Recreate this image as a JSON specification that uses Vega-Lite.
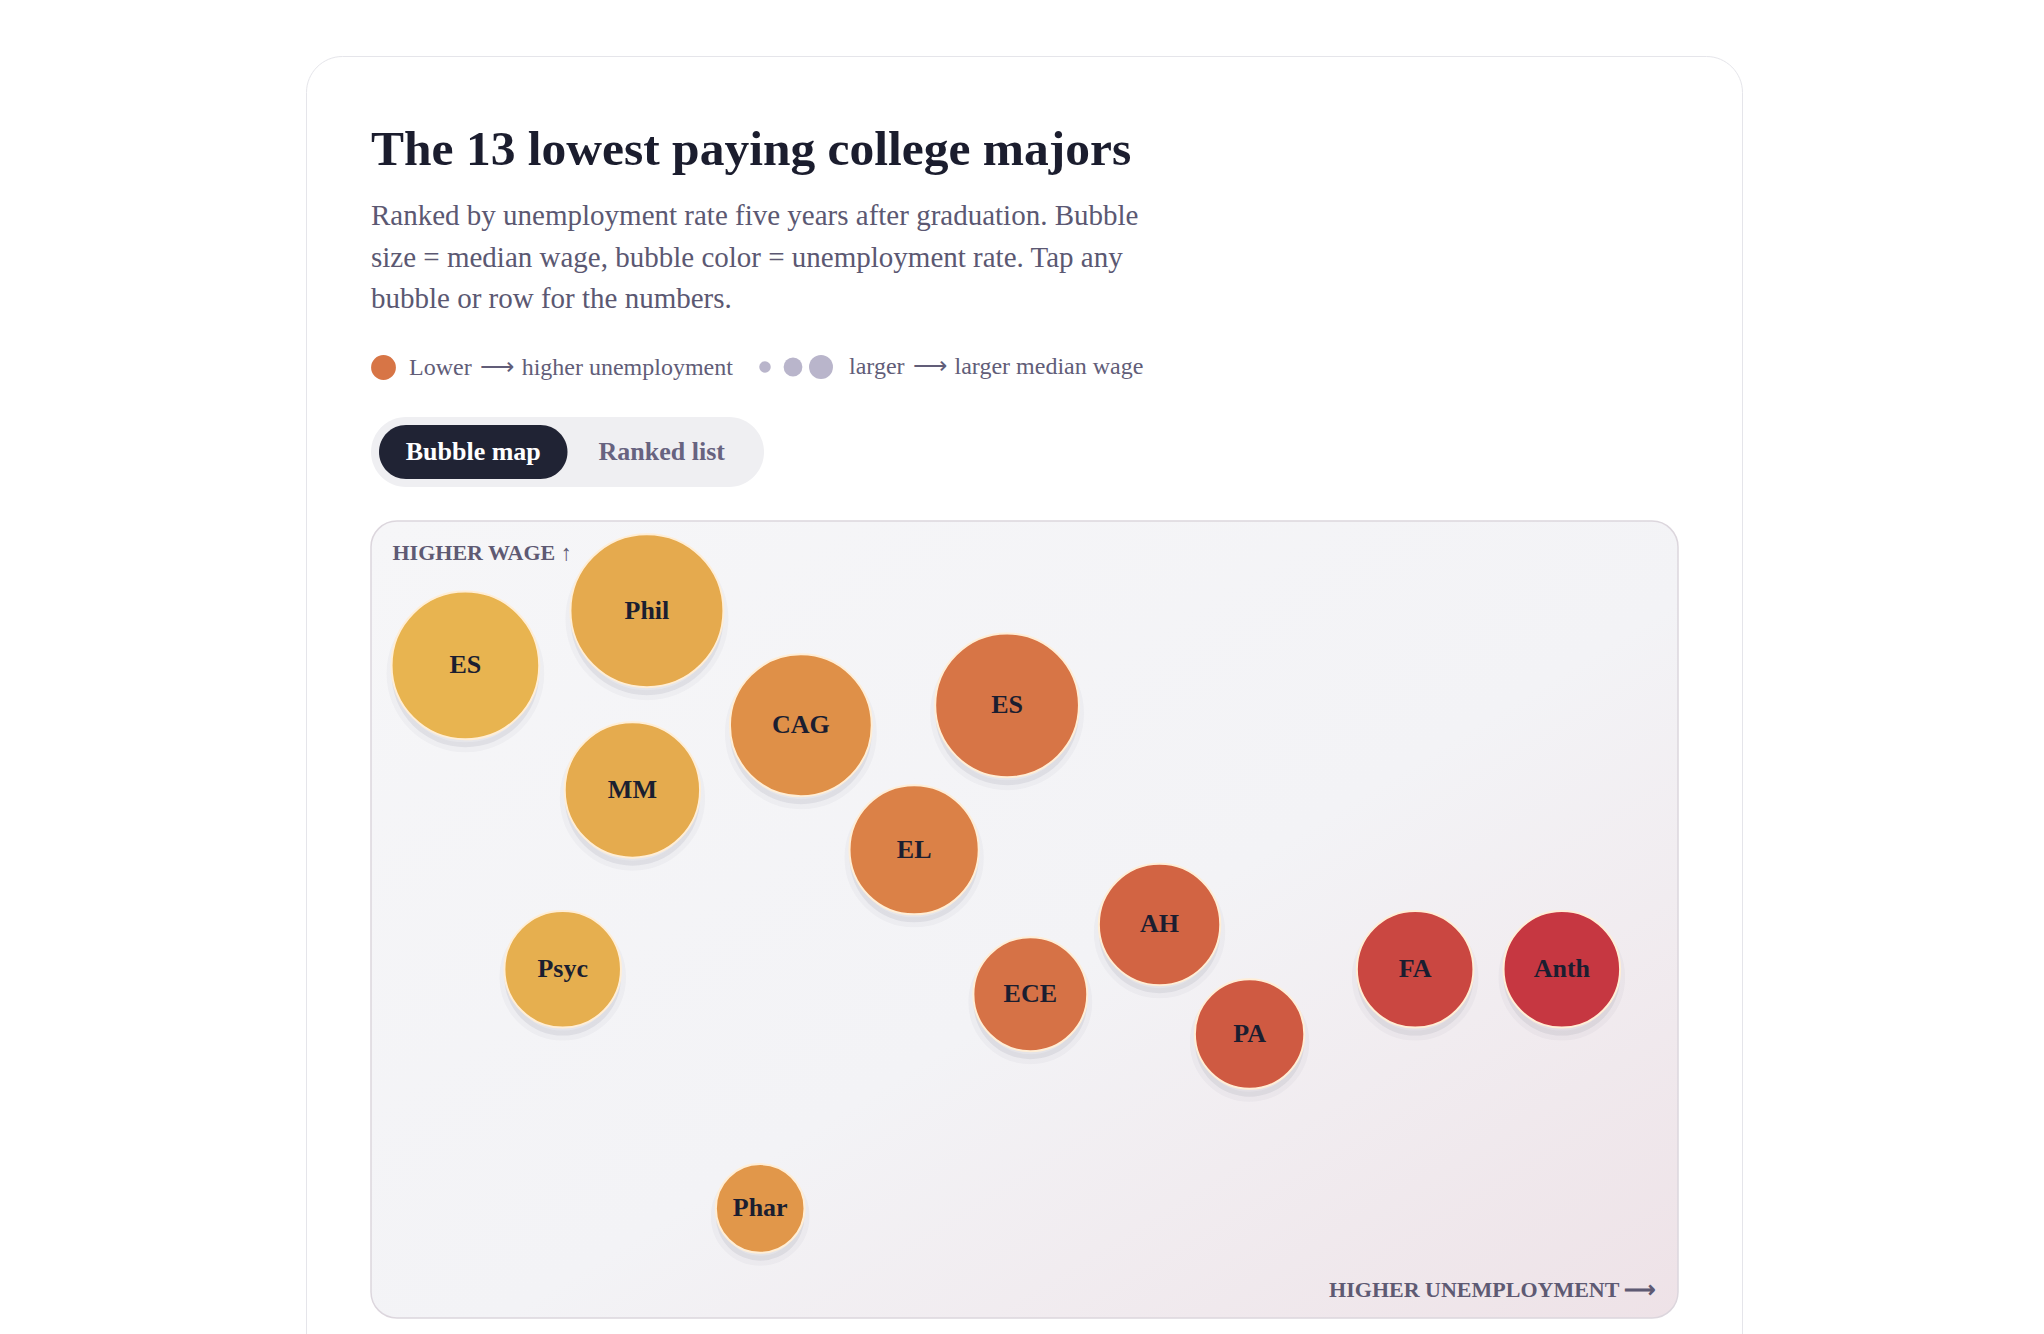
{
  "$schema": "https://vega.github.io/schema/vega-lite/v6.json",
  "background": "#ffffff",
  "padding": {"left": 305, "top": 55, "right": 40, "bottom": 0},
  "bounds": "flush",
  "spacing": 34,
  "config": {"font": "Liberation Serif"},
  "vconcat": [
    {
      "title": {
        "text": "The 13 lowest paying college majors",
        "subtitle": [
          "Ranked by unemployment rate five years after graduation. Bubble",
          "size = median wage, bubble color = unemployment rate. Tap any",
          "bubble or row for the numbers."
        ],
        "anchor": "start",
        "frame": "group",
        "font": "Liberation Serif",
        "fontSize": 49.5,
        "fontWeight": "bold",
        "color": "#1b1d2e",
        "subtitleFont": "Liberation Serif",
        "subtitleFontSize": 29,
        "subtitleColor": "#5b5872",
        "subtitleLineHeight": 41.3,
        "subtitlePadding": 26.6,
        "offset": 102,
        "limit": 1500
      },
      "width": 393,
      "height": 70,
      "view": {"fill": "#efeff2", "stroke": null, "cornerRadius": 35},
      "data": {
        "values": [
          {"control": "View", "option": "Bubble map", "selected": true},
          {"control": "View", "option": "Ranked list", "selected": false}
        ]
      },
      "encoding": {
        "x": {"field": "option", "type": "nominal", "sort": null, "axis": null, "scale": {"paddingInner": 0, "paddingOuter": 0.0424}},
        "y": {"field": "control", "type": "nominal", "axis": null, "scale": {"paddingInner": 0, "paddingOuter": 0.148}}
      },
      "layer": [
        {
          "mark": {"type": "rect", "cornerRadius": 27},
          "encoding": {
            "color": {"condition": {"test": "datum.selected", "value": "#202334"}, "value": "transparent"},
            "opacity": {
              "field": "control", "type": "nominal",
              "scale": {"range": [1, 1]},
              "legend": {
                "orient": "none", "legendX": -65, "legendY": -361, "title": null,
                "labelExpr": "''", "symbolSize": 0, "symbolOpacity": 0, "symbolStrokeWidth": 0,
                "labelOffset": 0, "labelFontSize": 1,
                "padding": 717.5, "strokeColor": "#e5e5ea", "fillColor": null, "cornerRadius": 36
              }
            }
          }
        },
        {
          "mark": {"type": "text", "font": "Liberation Serif", "fontSize": 26, "fontWeight": "bold", "baseline": "middle"},
          "encoding": {
            "text": {"field": "option"},
            "color": {"condition": {"test": "datum.selected", "value": "#ffffff"}, "value": "#676380"}
          }
        }
      ]
    },
    {
      "width": 1307,
      "height": 797,
      "view": {
        "fill": {
          "gradient": "linear", "x1": 0, "y1": 0, "x2": 1, "y2": 1,
          "stops": [
            {"offset": 0, "color": "#f6f6f8"},
            {"offset": 0.55, "color": "#f3f3f6"},
            {"offset": 1, "color": "#eee2e7"}
          ]
        },
        "stroke": "#dcd6dd", "strokeWidth": 1.5, "cornerRadius": 26
      },
      "data": {
        "values": [
          {"major": "ES", "unemployment": 3.65, "median_wage": 51100},
          {"major": "Phil", "unemployment": 4.90, "median_wage": 52200},
          {"major": "MM", "unemployment": 4.80, "median_wage": 48600},
          {"major": "Psyc", "unemployment": 4.32, "median_wage": 45000},
          {"major": "Phar", "unemployment": 5.68, "median_wage": 40200},
          {"major": "CAG", "unemployment": 5.96, "median_wage": 49900},
          {"major": "EL", "unemployment": 6.74, "median_wage": 47400},
          {"major": "ES", "unemployment": 7.38, "median_wage": 50300},
          {"major": "ECE", "unemployment": 7.54, "median_wage": 44500},
          {"major": "AH", "unemployment": 8.43, "median_wage": 45900},
          {"major": "PA", "unemployment": 9.05, "median_wage": 43700},
          {"major": "FA", "unemployment": 10.19, "median_wage": 45000},
          {"major": "Anth", "unemployment": 11.20, "median_wage": 45000}
        ]
      },
      "encoding": {
        "x": {
          "field": "unemployment", "type": "quantitative",
          "scale": {"domain": [3, 12], "nice": false, "zero": false},
          "axis": {
            "orient": "bottom", "domain": false, "ticks": false, "labels": false, "grid": false,
            "title": "HIGHER UNEMPLOYMENT ⟶",
            "titleFont": "Liberation Serif", "titleFontSize": 22, "titleFontWeight": "bold", "titleColor": "#5e5a73",
            "titleAlign": "right", "titleBaseline": "alphabetic", "titleX": 1285, "titleY": -22
          }
        },
        "y": {
          "field": "median_wage", "type": "quantitative",
          "scale": {"domain": [38000, 54000], "nice": false, "zero": false},
          "axis": {
            "orient": "left", "domain": false, "ticks": false, "labels": false, "grid": false,
            "title": "HIGHER WAGE ↑",
            "titleFont": "Liberation Serif", "titleFontSize": 22, "titleFontWeight": "bold", "titleColor": "#5e5a73",
            "titleAngle": 0, "titleAlign": "left", "titleBaseline": "alphabetic", "titleX": 21, "titleY": 38
          }
        }
      },
      "layer": [
        {
          "mark": {"type": "circle", "color": "#b9b5cb", "opacity": 1},
          "encoding": {
            "size": {
              "field": "median_wage", "type": "quantitative",
              "scale": {"type": "linear", "domain": [40000, 52000], "range": [133, 573], "zero": false},
              "legend": {
                "orient": "none", "legendX": 382, "legendY": -166, "direction": "horizontal", "title": null,
                "values": [40000, 46000, 52000],
                "labelExpr": "datum.value == 52000 ? '\u200b\u00a0\u00a0larger\u2004⟶\u2004larger median wage' : ''",
                "labelFont": "Liberation Serif", "labelFontSize": 24, "labelColor": "#615d78",
                "labelOffset": 4, "labelLimit": 600, "columnPadding": 0,
                "symbolStrokeWidth": 0, "symbolFillColor": "#b9b5cb", "symbolOpacity": 1, "padding": 0
              }
            }
          }
        },
        {
          "mark": {"type": "circle", "fill": "#2b2640", "fillOpacity": 0.07, "stroke": "#2b2640", "strokeOpacity": 0.03, "strokeWidth": 10, "yOffset": 8},
          "encoding": {
            "size": {
              "field": "median_wage", "type": "quantitative",
              "scale": {"type": "pow", "exponent": 2, "domain": [40200, 52200], "range": [7854, 23400]},
              "legend": null
            }
          }
        },
        {
          "mark": {"type": "circle", "opacity": 1, "stroke": "#ffeed6", "strokeWidth": 2},
          "encoding": {
            "size": {
              "field": "median_wage", "type": "quantitative",
              "scale": {"type": "pow", "exponent": 2, "domain": [40200, 52200], "range": [7854, 23400]},
              "legend": null
            },
            "color": {
              "field": "unemployment", "type": "quantitative",
              "scale": {
                "domain": [3.65, 4.9, 5.96, 7.38, 9.05, 11.2],
                "range": ["#e8b450", "#e5aa4e", "#df9048", "#d77546", "#cf5a42", "#c63741"],
                "interpolate": "rgb"
              },
              "legend": {
                "type": "symbol", "orient": "none", "legendX": 0, "legendY": -62, "title": null,
                "values": [7.38],
                "labelExpr": "'Lower\u2004⟶\u2004higher unemployment'",
                "symbolSize": 616, "symbolType": "circle", "symbolStrokeWidth": 0, "symbolOpacity": 1,
                "labelFont": "Liberation Serif", "labelFontSize": 24, "labelColor": "#615d78",
                "labelOffset": 13, "labelLimit": 600, "padding": 0
              }
            }
          }
        },
        {
          "mark": {"type": "text", "font": "Liberation Serif", "fontSize": 26, "fontWeight": "bold", "color": "#1b1e30", "baseline": "middle", "align": "center"},
          "encoding": {"text": {"field": "major"}}
        }
      ],
      "resolve": {"scale": {"size": "independent"}, "legend": {"size": "independent"}}
    }
  ]
}
